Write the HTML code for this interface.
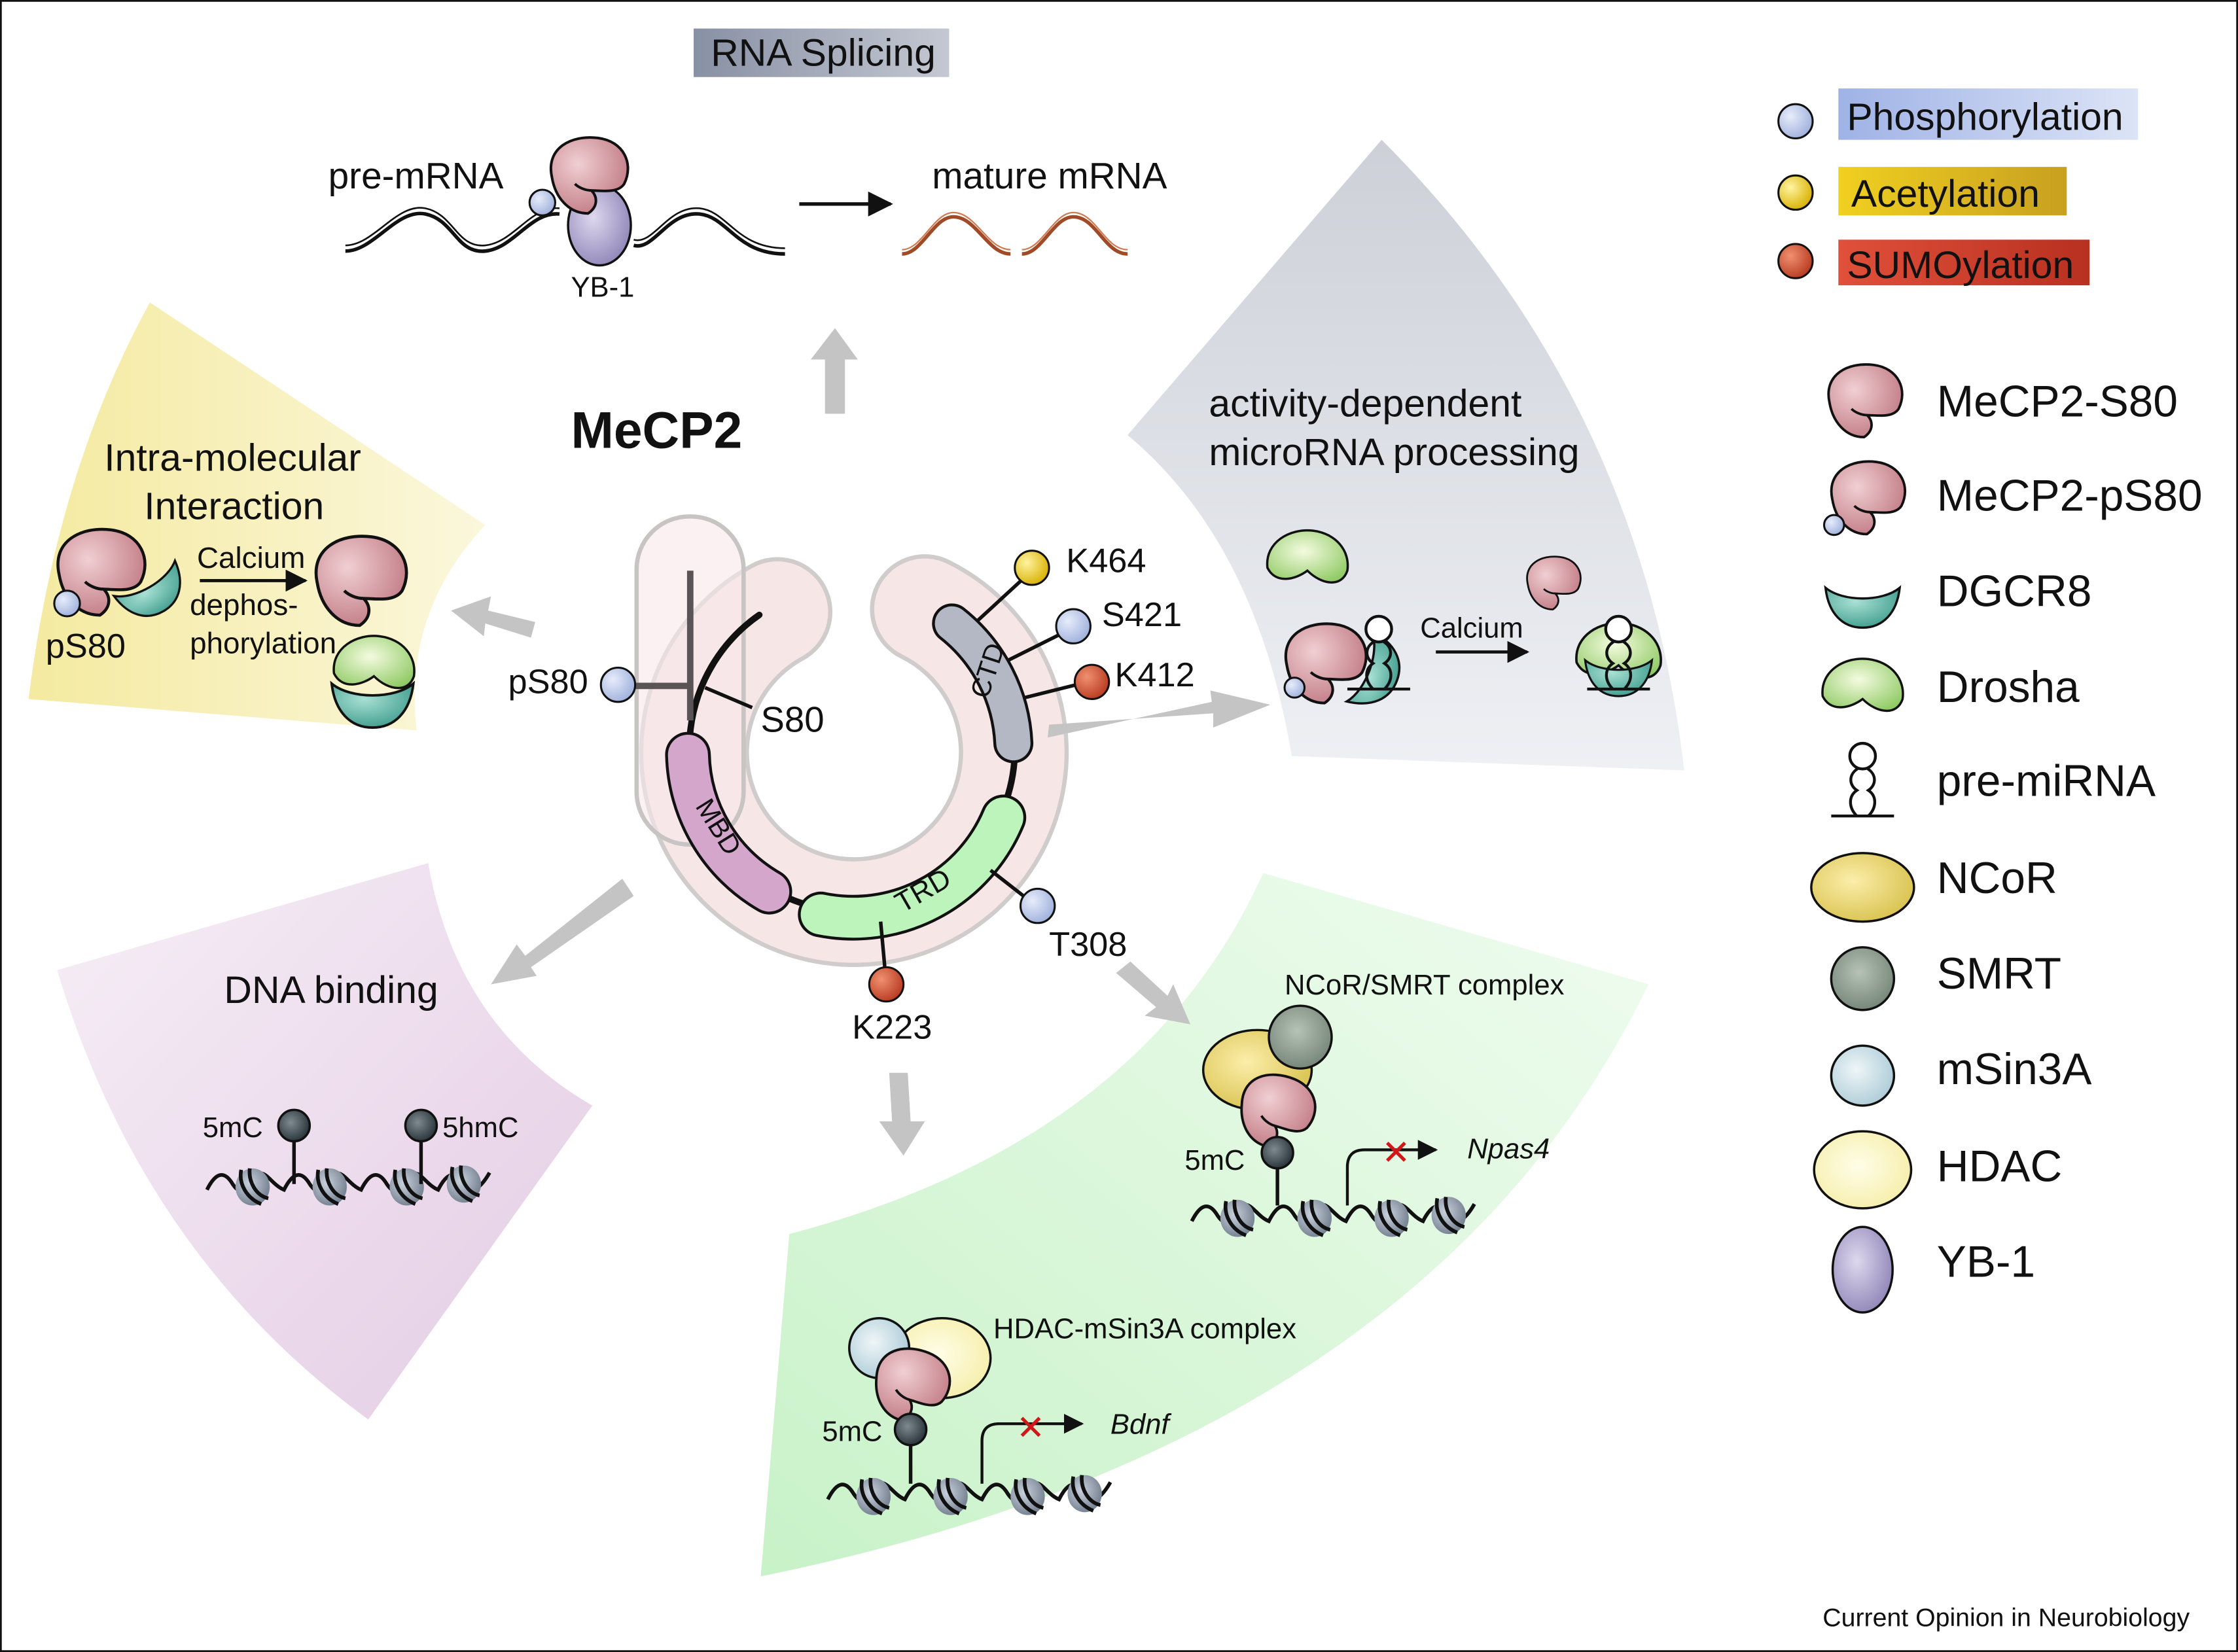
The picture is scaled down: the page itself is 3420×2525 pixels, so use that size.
<!DOCTYPE html>
<html><head><meta charset="utf-8"><style>
html,body{margin:0;padding:0;background:#fff}
svg{display:block}
text{font-family:"Liberation Sans",Arial,sans-serif;fill:#111}
</style></head><body>
<svg width="3420" height="2525" viewBox="0 0 1568 1158" preserveAspectRatio="none" xmlns="http://www.w3.org/2000/svg">
<defs>
<radialGradient id="gp" cx="35%" cy="35%" r="70%"><stop offset="0" stop-color="#f0cfd2"/><stop offset="1" stop-color="#c27c86"/></radialGradient>
<radialGradient id="gb" cx="35%" cy="35%" r="70%"><stop offset="0" stop-color="#e6ecfa"/><stop offset="1" stop-color="#9fb0dc"/></radialGradient>
<radialGradient id="gy" cx="35%" cy="35%" r="70%"><stop offset="0" stop-color="#fff4a0"/><stop offset="1" stop-color="#d8b000"/></radialGradient>
<radialGradient id="gr" cx="35%" cy="35%" r="70%"><stop offset="0" stop-color="#f09070"/><stop offset="1" stop-color="#b83a20"/></radialGradient>
<radialGradient id="gt" cx="40%" cy="35%" r="70%"><stop offset="0" stop-color="#a8e0d4"/><stop offset="1" stop-color="#3e9c8c"/></radialGradient>
<radialGradient id="gd" cx="45%" cy="40%" r="70%"><stop offset="0" stop-color="#f4fbe0"/><stop offset="1" stop-color="#8cc860"/></radialGradient>
<radialGradient id="gn" cx="40%" cy="40%" r="70%"><stop offset="0" stop-color="#fbeeaa"/><stop offset="1" stop-color="#d6bf48"/></radialGradient>
<radialGradient id="gs" cx="45%" cy="40%" r="70%"><stop offset="0" stop-color="#b6c2b6"/><stop offset="1" stop-color="#6c7e70"/></radialGradient>
<radialGradient id="gm" cx="40%" cy="40%" r="70%"><stop offset="0" stop-color="#eef6f8"/><stop offset="1" stop-color="#a8c8d4"/></radialGradient>
<radialGradient id="gh" cx="45%" cy="45%" r="70%"><stop offset="0" stop-color="#fffde8"/><stop offset="1" stop-color="#f4eca0"/></radialGradient>
<radialGradient id="gv" cx="40%" cy="40%" r="70%"><stop offset="0" stop-color="#ddd8ee"/><stop offset="1" stop-color="#8a80b4"/></radialGradient>
<radialGradient id="gk" cx="40%" cy="40%" r="70%"><stop offset="0" stop-color="#7e8a90"/><stop offset="1" stop-color="#1e2a30"/></radialGradient>
<radialGradient id="gnu" cx="40%" cy="40%" r="70%"><stop offset="0" stop-color="#c8d0dc"/><stop offset="1" stop-color="#6c7888"/></radialGradient>
<linearGradient id="sy" x1="0" y1="0" x2="1" y2="0"><stop offset="0" stop-color="#f4eaa0"/><stop offset="1" stop-color="#fbf7dc"/></linearGradient>
<linearGradient id="sg" x1="0" y1="0" x2="0" y2="1"><stop offset="0" stop-color="#cdd0d8"/><stop offset="1" stop-color="#eef0f4"/></linearGradient>
<linearGradient id="spu" x1="0" y1="0" x2="1" y2="1"><stop offset="0" stop-color="#f6eef6"/><stop offset="1" stop-color="#e4cce4"/></linearGradient>
<linearGradient id="sgr" x1="0" y1="1" x2="1" y2="0"><stop offset="0" stop-color="#c8f2c8"/><stop offset="1" stop-color="#f0fcf0"/></linearGradient>
<linearGradient id="lb" x1="0" y1="0" x2="1" y2="0"><stop offset="0" stop-color="#9fb2e6"/><stop offset="1" stop-color="#dce4f6"/></linearGradient>
<linearGradient id="ly" x1="0" y1="0" x2="1" y2="0"><stop offset="0" stop-color="#f0d020"/><stop offset="1" stop-color="#c8a020"/></linearGradient>
<linearGradient id="lr" x1="0" y1="0" x2="1" y2="0"><stop offset="0" stop-color="#e0503a"/><stop offset="1" stop-color="#b83020"/></linearGradient>
<linearGradient id="lrna" x1="0" y1="0" x2="1" y2="0"><stop offset="0" stop-color="#8890a4"/><stop offset="1" stop-color="#c4c8d2"/></linearGradient>
<g id="mec"><path d="M-22,2 C-26,-16 -10,-24 6,-22 C22,-20 28,-6 22,6 C18,12 8,10 2,10 C6,14 6,20 0,24 C-12,24 -20,14 -22,2 Z" fill="url(#gp)" stroke="#111" stroke-width="1.6"/><path d="M2,10 C-2,10 -6,8 -8,6" fill="none" stroke="#111" stroke-width="1.6"/></g>
<g id="dg"><path d="M-26,-8 C-14,2 14,2 26,-8 C24,10 14,20 0,20 C-14,20 -24,10 -26,-8 Z" fill="url(#gt)" stroke="#111" stroke-width="1.6"/></g>
<g id="dr"><path d="M-28,6 C-30,-12 -12,-22 4,-20 C20,-18 30,-6 28,8 C24,20 10,18 0,8 C-8,14 -22,18 -28,6 Z" fill="url(#gd)" stroke="#111" stroke-width="1.6"/></g>
<g id="nuc"><ellipse cx="0" cy="0" rx="12" ry="13" fill="url(#gnu)"/><path d="M-8,-12 C-10,-2 -4,8 6,12 M-2,-13 C-3,-4 2,6 11,8" fill="none" stroke="#111" stroke-width="2.6"/></g>
<g id="dna"><path d="M0,8 C6,-4 12,-6 18,4 C22,10 26,12 32,0 M32,0 C40,-10 44,4 54,8 C60,-4 66,-6 72,4 C76,10 80,12 86,0 C94,-10 98,4 108,8 C114,-4 120,-6 126,4 C130,10 134,12 140,0 C148,-10 152,4 162,8 C168,-4 174,-6 180,4 C184,10 190,10 198,-4" fill="none" stroke="#111" stroke-width="2.6"/><use href="#nuc" x="32" y="6"/><use href="#nuc" x="86" y="6"/><use href="#nuc" x="140" y="6"/><use href="#nuc" x="180" y="4"/></g>
<g id="stem"><path d="M-4,0 C-10,-6 -10,-14 -4,-18 C-10,-22 -10,-30 -2,-34" fill="none" stroke="#111" stroke-width="2"/><path d="M4,0 C10,-6 10,-14 4,-18 C10,-22 10,-30 2,-34" fill="none" stroke="#111" stroke-width="2"/><circle cx="0" cy="-42" r="9" fill="#fff" stroke="#111" stroke-width="2"/><path d="M-22,0 H22" stroke="#111" stroke-width="2"/></g>
<marker id="ah" viewBox="0 0 10 10" refX="9" refY="5" markerWidth="7" markerHeight="7" orient="auto"><path d="M0,0 L10,5 L0,10 Z" fill="#111"/></marker>
</defs>
<rect x="0.5" y="0.5" width="1567" height="1157" fill="#fff" stroke="#111" stroke-width="1.5"/>

<!-- sectors -->
<path d="M105,212 L340,368 Q282,430 292,512 L20,490 Q40,330 105,212 Z" fill="url(#sy)"/>
<path d="M790,305 L968,98 Q1150,280 1180,540 L905,530 Q880,380 790,305 Z" fill="url(#sg)"/>
<path d="M40,680 L300,605 Q320,720 415,775 L258,995 Q100,880 40,680 Z" fill="url(#spu)"/>
<path d="M885,612 L1155,690 Q1000,1010 533,1105 L553,865 Q800,800 885,612 Z" fill="url(#sgr)"/>

<!-- RNA splicing -->
<rect x="486" y="20" width="179" height="34" fill="url(#lrna)"/>
<text x="498" y="46" font-size="27">RNA Splicing</text>
<text x="230" y="132" font-size="26">pre-mRNA</text>
<path d="M242,176 C262,176 278,146 298,150 C318,154 320,178 340,176 C360,174 372,148 392,150 M444,172 C458,176 468,148 490,150 C510,152 516,178 550,178" fill="none" stroke="#111" stroke-width="2.5"/>
<path d="M242,172 C262,172 278,142 298,146 C318,150 320,174 340,172 C360,170 372,144 392,146 M444,168 C458,172 468,144 490,146 C510,148 516,174 550,174" fill="none" stroke="#111" stroke-width="1.2"/>
<ellipse cx="420" cy="158" rx="22" ry="28" fill="url(#gv)" stroke="#111" stroke-width="1.6"/>
<use href="#mec" transform="translate(412,122) scale(1.15)"/>
<circle cx="380" cy="142" r="9" fill="url(#gb)" stroke="#111" stroke-width="1.4"/>
<text x="400" y="208" font-size="20">YB-1</text>
<line x1="560" y1="143" x2="624" y2="143" stroke="#111" stroke-width="2.5" marker-end="url(#ah)"/>
<text x="653" y="132" font-size="26">mature mRNA</text>
<path d="M632,178 C646,178 654,152 668,152 C684,152 692,178 708,178 M716,178 C730,178 738,152 752,152 C768,152 774,178 790,178" fill="none" stroke="#a04a28" stroke-width="2.5"/>
<path d="M632,175 C646,175 654,149 668,149 C684,149 692,175 708,175 M716,175 C730,175 738,149 752,149 C768,149 774,175 790,175" fill="none" stroke="#d07a50" stroke-width="1"/>

<!-- legend -->
<circle cx="1258" cy="85" r="12" fill="url(#gb)" stroke="#111" stroke-width="1.4"/>
<rect x="1288" y="62" width="210" height="36" fill="url(#lb)"/>
<text x="1294" y="91" font-size="27">Phosphorylation</text>
<circle cx="1258" cy="135" r="12" fill="url(#gy)" stroke="#111" stroke-width="1.4"/>
<rect x="1288" y="117" width="160" height="34" fill="url(#ly)"/>
<text x="1297" y="145" font-size="27">Acetylation</text>
<circle cx="1258" cy="183" r="12" fill="url(#gr)" stroke="#111" stroke-width="1.4"/>
<rect x="1288" y="168" width="176" height="32" fill="url(#lr)"/>
<text x="1294" y="195" font-size="27">SUMOylation</text>

<g font-size="31">
<text x="1357" y="292">MeCP2-S80</text>
<text x="1357" y="358">MeCP2-pS80</text>
<text x="1357" y="425">DGCR8</text>
<text x="1357" y="492">Drosha</text>
<text x="1357" y="558">pre-miRNA</text>
<text x="1357" y="626">NCoR</text>
<text x="1357" y="693">SMRT</text>
<text x="1357" y="760">mSin3A</text>
<text x="1357" y="828">HDAC</text>
<text x="1357" y="895">YB-1</text>
</g>
<use href="#mec" transform="translate(1306,280) scale(1.1)"/>
<use href="#mec" transform="translate(1308,348) scale(1.1)"/>
<circle cx="1285" cy="368" r="7" fill="url(#gb)" stroke="#111" stroke-width="1.4"/>
<use href="#dg" transform="translate(1305,420)"/>
<use href="#dr" transform="translate(1305,482)"/>
<use href="#stem" transform="translate(1305,572)"/>
<ellipse cx="1305" cy="622" rx="36" ry="24" fill="url(#gn)" stroke="#111" stroke-width="1.6"/>
<circle cx="1305" cy="686" r="22" fill="url(#gs)" stroke="#111" stroke-width="1.6"/>
<ellipse cx="1305" cy="754" rx="22" ry="21" fill="url(#gm)" stroke="#111" stroke-width="1.6"/>
<ellipse cx="1305" cy="820" rx="34" ry="27" fill="url(#gh)" stroke="#111" stroke-width="1.6"/>
<ellipse cx="1305" cy="890" rx="21" ry="30" fill="url(#gv)" stroke="#111" stroke-width="1.6"/>

<!-- MeCP2 central -->
<text x="400" y="314" font-size="36" font-weight="bold">MeCP2</text>
<g opacity="0.85">
<path d="M544.7,429 A112,112 0 1 0 648,427" fill="none" stroke="#c8c4c4" stroke-width="77" stroke-linecap="round"/>
<path d="M544.7,429 A112,112 0 1 0 648,427" fill="none" stroke="#f6e2e2" stroke-width="71" stroke-linecap="round"/>
</g>
<rect x="446" y="362" width="75" height="230" rx="37" fill="#f8e8ea" fill-opacity="0.6" stroke="#c8c4c4" stroke-width="3"/>
<path d="M532,431 A114,114 0 1 0 662,431" fill="none" stroke="#111" stroke-width="4.5" stroke-linecap="round"/>
<path d="M483.6,400 V505 M433,480.8 H483.6" stroke="#5a5456" stroke-width="4.5"/>
<path d="M494,482 L527,496" stroke="#111" stroke-width="2.5"/>
<text x="533" y="513" font-size="25">S80</text>
<!-- domains -->
<path d="M482,529 A114,114 0 0 0 539,625" fill="none" stroke="#111" stroke-width="32" stroke-linecap="round"/>
<path d="M482,529 A114,114 0 0 0 539,625" fill="none" stroke="#d4a6cc" stroke-width="28" stroke-linecap="round"/>
<path d="M575,641 A114,114 0 0 0 703,573" fill="none" stroke="#111" stroke-width="32" stroke-linecap="round"/>
<path d="M575,641 A114,114 0 0 0 703,573" fill="none" stroke="#bcf4bc" stroke-width="28" stroke-linecap="round"/>
<path d="M667,437 A114,114 0 0 1 710,521" fill="none" stroke="#111" stroke-width="28" stroke-linecap="round"/>
<path d="M667,437 A114,114 0 0 1 710,521" fill="none" stroke="#b4b8c4" stroke-width="24" stroke-linecap="round"/>
<text transform="translate(498,583) rotate(58)" font-size="19" text-anchor="middle">MBD</text>
<text transform="translate(650,630) rotate(-30)" font-size="20" text-anchor="middle">TRD</text>
<text transform="translate(698,472) rotate(-72)" font-size="19" text-anchor="middle">CTD</text>
<!-- sites -->
<g stroke="#111" stroke-width="2.5">
<line x1="685" y1="435" x2="723" y2="400"/>
<line x1="706" y1="463" x2="752" y2="440"/>
<line x1="718" y1="489" x2="762" y2="478"/>
<line x1="694" y1="610" x2="726" y2="635"/>
<line x1="617" y1="646" x2="621" y2="690"/>
</g>
<circle cx="433" cy="480" r="12" fill="url(#gb)" stroke="#111" stroke-width="1.4"/>
<circle cx="723" cy="398" r="12" fill="url(#gy)" stroke="#111" stroke-width="1.4"/>
<circle cx="752" cy="439" r="12" fill="url(#gb)" stroke="#111" stroke-width="1.4"/>
<circle cx="765" cy="478" r="12" fill="url(#gr)" stroke="#111" stroke-width="1.4"/>
<circle cx="727" cy="635" r="12" fill="url(#gb)" stroke="#111" stroke-width="1.4"/>
<circle cx="621" cy="690" r="12" fill="url(#gr)" stroke="#111" stroke-width="1.4"/>
<g font-size="24">
<text x="356" y="486">pS80</text>
<text x="747" y="401">K464</text>
<text x="772" y="439">S421</text>
<text x="781" y="481">K412</text>
<text x="735" y="670">T308</text>
<text x="597" y="728">K223</text>
</g>

<!-- gray arrows -->
<g fill="#c4c4c4">
<path d="M578,290 L578,252 L568,252 L585,230 L601,252 L592,252 L592,290 Z"/>
<path d="M375,436 L342,428 L344,418 L316,428 L339,446 L340,437 L372,447 Z"/>
<path d="M735,508 L850,500 L850,510 L890,494 L848,484 L849,492 L734,517 Z"/>
<path d="M436,616 L368,670 L362,662 L344,690 L376,684 L372,678 L444,628 Z"/>
<path d="M782,682 L810,706 L802,712 L834,718 L822,690 L818,698 L792,674 Z"/>
<path d="M623,752 L625,786 L616,786 L633,810 L648,786 L638,786 L636,752 Z"/>
</g>

<!-- yellow sector content -->
<text x="73" y="330" font-size="27">Intra-molecular</text>
<text x="101" y="364" font-size="27">Interaction</text>
<use href="#dg" transform="translate(105,412) rotate(-30) scale(0.95)"/>
<use href="#mec" transform="translate(70,400) scale(1.3)"/>
<circle cx="47" cy="423" r="9" fill="url(#gb)" stroke="#111" stroke-width="1.4"/>
<text x="32" y="461" font-size="24">pS80</text>
<text x="138" y="398" font-size="21">Calcium</text>
<line x1="140" y1="407" x2="214" y2="407" stroke="#111" stroke-width="2.2" marker-end="url(#ah)"/>
<text x="133" y="431" font-size="21">dephos-</text>
<text x="133" y="458" font-size="21">phorylation</text>
<use href="#mec" transform="translate(252,406) scale(1.35)"/>
<use href="#dg" transform="translate(261,488) scale(1.1)"/>
<use href="#dr" transform="translate(262,466) scale(1.0)"/>

<!-- gray sector content -->
<text x="847" y="292" font-size="27">activity-dependent</text>
<text x="847" y="326" font-size="27">microRNA processing</text>
<use href="#dr" transform="translate(916,392)"/>
<use href="#dg" transform="translate(960,470) rotate(-70) scale(1)"/>
<use href="#stem" transform="translate(966,483)"/>
<use href="#mec" transform="translate(928,464) scale(1.2)"/>
<circle cx="907" cy="482" r="7" fill="url(#gb)" stroke="#111" stroke-width="1.4"/>
<text x="995" y="447" font-size="20">Calcium</text>
<line x1="1006" y1="457" x2="1070" y2="457" stroke="#111" stroke-width="2.2" marker-end="url(#ah)"/>
<use href="#mec" transform="translate(1088,408) scale(0.8)"/>
<use href="#dr" transform="translate(1134,458) scale(1.05)"/>
<use href="#dg" transform="translate(1134,470) scale(0.9)"/>
<use href="#stem" transform="translate(1134,483)"/>

<!-- purple sector -->
<text x="157" y="703" font-size="27">DNA binding</text>
<use href="#dna" transform="translate(145,826) scale(1.0)"/>
<line x1="206" y1="792" x2="206" y2="830" stroke="#111" stroke-width="2.5"/>
<line x1="295" y1="792" x2="295" y2="830" stroke="#111" stroke-width="2.5"/>
<circle cx="206" cy="789" r="11" fill="url(#gk)" stroke="#111" stroke-width="1.6"/>
<circle cx="295" cy="789" r="11" fill="url(#gk)" stroke="#111" stroke-width="1.6"/>
<text x="142" y="797" font-size="20">5mC</text>
<text x="310" y="797" font-size="20">5hmC</text>

<!-- green sector -->
<text x="900" y="697" font-size="20">NCoR/SMRT complex</text>
<ellipse cx="881" cy="750" rx="38" ry="28" fill="url(#gn)" stroke="#111" stroke-width="1.6"/>
<circle cx="911" cy="727" r="22" fill="url(#gs)" stroke="#111" stroke-width="1.6"/>
<use href="#mec" transform="translate(894,778) rotate(15) scale(1.1)"/>
<line x1="895" y1="810" x2="895" y2="845" stroke="#111" stroke-width="2.5"/>
<circle cx="895" cy="808" r="11" fill="url(#gk)" stroke="#111" stroke-width="1.6"/>
<text x="830" y="820" font-size="20">5mC</text>
<use href="#dna" transform="translate(835,848) scale(1.0)"/>
<path d="M944,845 V818 Q944,806 956,806 H1006" fill="none" stroke="#111" stroke-width="2" marker-end="url(#ah)"/>
<text x="968" y="816" font-size="24" fill="#d01818" style="fill:#d01818">✕</text>
<text x="1028" y="812" font-size="20" font-style="italic">Npas4</text>

<text x="696" y="938" font-size="20">HDAC-mSin3A complex</text>
<ellipse cx="660" cy="952" rx="34" ry="28" fill="url(#gh)" stroke="#111" stroke-width="1.6"/>
<ellipse cx="616" cy="945" rx="21" ry="21" fill="url(#gm)" stroke="#111" stroke-width="1.6"/>
<use href="#mec" transform="translate(638,970) rotate(15) scale(1.1)"/>
<line x1="638" y1="1004" x2="638" y2="1040" stroke="#111" stroke-width="2.5"/>
<circle cx="638" cy="1002" r="11" fill="url(#gk)" stroke="#111" stroke-width="1.6"/>
<text x="576" y="1010" font-size="20">5mC</text>
<use href="#dna" transform="translate(580,1043) scale(1.0)"/>
<path d="M688,1040 V1010 Q688,998 700,998 H758" fill="none" stroke="#111" stroke-width="2" marker-end="url(#ah)"/>
<text x="712" y="1009" font-size="24" style="fill:#d01818">✕</text>
<text x="778" y="1005" font-size="20" font-style="italic">Bdnf</text>

<text x="1277" y="1140" font-size="18">Current Opinion in Neurobiology</text>
</svg>
</body></html>
